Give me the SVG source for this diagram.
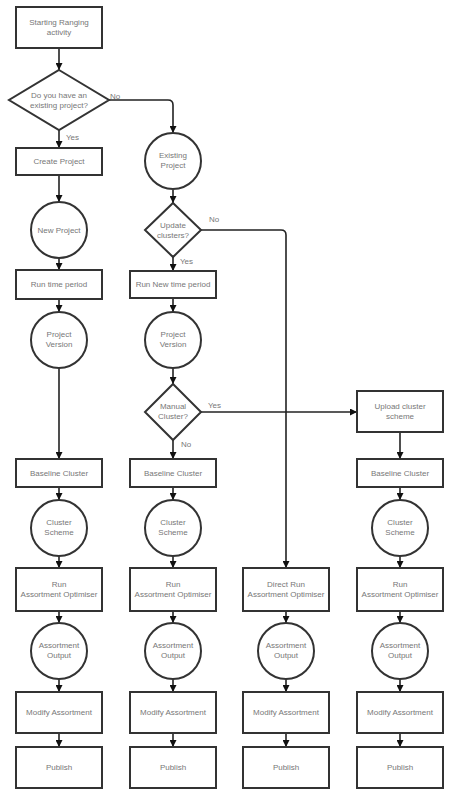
<svg xmlns="http://www.w3.org/2000/svg" width="474" height="796" viewBox="0 0 474 796">
<defs>
<marker id="arr" viewBox="0 0 10 10" refX="10" refY="5" markerWidth="7" markerHeight="7" markerUnits="userSpaceOnUse" orient="auto">
<path d="M0,0 L10,5 L0,10 z" fill="#111"/>
</marker>
<style>
.n{fill:#fff;stroke:#333;stroke-width:2}
.t{font-family:"Liberation Sans",Arial,sans-serif;font-size:8px;fill:#777;text-anchor:middle}
.l{font-family:"Liberation Sans",Arial,sans-serif;font-size:8px;fill:#777}
.c{fill:none;stroke:#222;stroke-width:1.6;marker-end:url(#arr)}
</style>
</defs>
<rect width="474" height="796" fill="#fff"/>
<g id="connectors">
<path class="c" d="M59,48 V70"/>
<path class="c" d="M109,100 H168 Q173,100 173,105 V133"/>
<path class="c" d="M59,130 V148"/>
<path class="c" d="M59,175 V202"/>
<path class="c" d="M59,258 V270"/>
<path class="c" d="M59,299 V312"/>
<path class="c" d="M59,368 V459"/>
<path class="c" d="M173,190 V203"/>
<path class="c" d="M201,230 H281 Q286,230 286,235 V568"/>
<path class="c" d="M173,257 V271"/>
<path class="c" d="M173,298 V312"/>
<path class="c" d="M173,368 V384"/>
<path class="c" d="M201,412 H357"/>
<path class="c" d="M173,440 V459"/>
<path class="c" d="M400,432 V459"/>
<path class="c" d="M59,487 V500"/><path class="c" d="M173,487 V500"/><path class="c" d="M400,487 V500"/>
<path class="c" d="M59,556 V568"/><path class="c" d="M173,556 V568"/><path class="c" d="M400,556 V568"/>
<path class="c" d="M59,611 V623"/><path class="c" d="M173,611 V623"/><path class="c" d="M286,611 V623"/><path class="c" d="M400,611 V623"/>
<path class="c" d="M59,679 V692"/><path class="c" d="M173,679 V692"/><path class="c" d="M286,679 V692"/><path class="c" d="M400,679 V692"/>
<path class="c" d="M59,733 V747"/><path class="c" d="M173,733 V747"/><path class="c" d="M286,733 V747"/><path class="c" d="M400,733 V747"/>
<text class="l" x="110" y="99">No</text>
<text class="l" x="66" y="140">Yes</text>
<text class="l" x="209" y="222">No</text>
<text class="l" x="180" y="264">Yes</text>
<text class="l" x="208" y="408">Yes</text>
<text class="l" x="181" y="447">No</text>
</g>
<g id="start"><rect class="n" x="16" y="7" width="86" height="41"/><text class="t" x="59" y="25">Starting Ranging</text><text class="t" x="59" y="35">activity</text></g>
<g id="d-existing"><path class="n" d="M59,70 L109,100 L59,130 L9,100 z"/><text class="t" x="59" y="98">Do you have an</text><text class="t" x="59" y="108">existing project?</text></g>
<g id="create-project"><rect class="n" x="16" y="148" width="86" height="27"/><text class="t" x="59" y="164">Create Project</text></g>
<g id="new-project"><circle class="n" cx="59" cy="230" r="28"/><text class="t" x="59" y="233">New Project</text></g>
<g id="run-time-period"><rect class="n" x="16" y="270" width="86" height="29"/><text class="t" x="59" y="287">Run time period</text></g>
<g id="project-version-1"><circle class="n" cx="59" cy="340" r="28"/><text class="t" x="59" y="337">Project</text><text class="t" x="59" y="347">Version</text></g>
<g id="existing-project"><circle class="n" cx="173" cy="161" r="28"/><text class="t" x="173" y="158">Existing</text><text class="t" x="173" y="168">Project</text></g>
<g id="d-update"><path class="n" d="M173,203 L201,230 L173,257 L145,230 z"/><text class="t" x="173" y="228">Update</text><text class="t" x="173" y="238">clusters?</text></g>
<g id="run-new-time-period"><rect class="n" x="130" y="271" width="86" height="27"/><text class="t" x="173" y="287">Run New time period</text></g>
<g id="project-version-2"><circle class="n" cx="173" cy="340" r="28"/><text class="t" x="173" y="337">Project</text><text class="t" x="173" y="347">Version</text></g>
<g id="d-manual"><path class="n" d="M173,384 L201,412 L173,440 L145,412 z"/><text class="t" x="173" y="409">Manual</text><text class="t" x="173" y="419">Cluster?</text></g>
<g id="upload"><rect class="n" x="357" y="391" width="86" height="41"/><text class="t" x="400" y="409">Upload cluster</text><text class="t" x="400" y="419">scheme</text></g>
<g id="baseline-1"><rect class="n" x="16" y="459" width="86" height="28"/><text class="t" x="59" y="476">Baseline Cluster</text></g>
<g id="baseline-2"><rect class="n" x="130" y="459" width="86" height="28"/><text class="t" x="173" y="476">Baseline Cluster</text></g>
<g id="baseline-4"><rect class="n" x="357" y="459" width="86" height="28"/><text class="t" x="400" y="476">Baseline Cluster</text></g>
<g id="scheme-1"><circle class="n" cx="59" cy="528" r="28"/><text class="t" x="59" y="525">Cluster</text><text class="t" x="59" y="535">Scheme</text></g>
<g id="scheme-2"><circle class="n" cx="173" cy="528" r="28"/><text class="t" x="173" y="525">Cluster</text><text class="t" x="173" y="535">Scheme</text></g>
<g id="scheme-4"><circle class="n" cx="400" cy="528" r="28"/><text class="t" x="400" y="525">Cluster</text><text class="t" x="400" y="535">Scheme</text></g>
<g id="rao-1"><rect class="n" x="16" y="568" width="86" height="43"/><text class="t" x="59" y="587">Run</text><text class="t" x="59" y="597">Assortment Optimiser</text></g>
<g id="rao-2"><rect class="n" x="130" y="568" width="86" height="43"/><text class="t" x="173" y="587">Run</text><text class="t" x="173" y="597">Assortment Optimiser</text></g>
<g id="rao-3"><rect class="n" x="243" y="568" width="86" height="43"/><text class="t" x="286" y="587">Direct Run</text><text class="t" x="286" y="597">Assortment Optimiser</text></g>
<g id="rao-4"><rect class="n" x="357" y="568" width="86" height="43"/><text class="t" x="400" y="587">Run</text><text class="t" x="400" y="597">Assortment Optimiser</text></g>
<g id="out-1"><circle class="n" cx="59" cy="651" r="28"/><text class="t" x="59" y="648">Assortment</text><text class="t" x="59" y="658">Output</text></g>
<g id="out-2"><circle class="n" cx="173" cy="651" r="28"/><text class="t" x="173" y="648">Assortment</text><text class="t" x="173" y="658">Output</text></g>
<g id="out-3"><circle class="n" cx="286" cy="651" r="28"/><text class="t" x="286" y="648">Assortment</text><text class="t" x="286" y="658">Output</text></g>
<g id="out-4"><circle class="n" cx="400" cy="651" r="28"/><text class="t" x="400" y="648">Assortment</text><text class="t" x="400" y="658">Output</text></g>
<g id="mod-1"><rect class="n" x="16" y="692" width="86" height="41"/><text class="t" x="59" y="715">Modify Assortment</text></g>
<g id="mod-2"><rect class="n" x="130" y="692" width="86" height="41"/><text class="t" x="173" y="715">Modify Assortment</text></g>
<g id="mod-3"><rect class="n" x="243" y="692" width="86" height="41"/><text class="t" x="286" y="715">Modify Assortment</text></g>
<g id="mod-4"><rect class="n" x="357" y="692" width="86" height="41"/><text class="t" x="400" y="715">Modify Assortment</text></g>
<g id="pub-1"><rect class="n" x="16" y="747" width="86" height="41"/><text class="t" x="59" y="770">Publish</text></g>
<g id="pub-2"><rect class="n" x="130" y="747" width="86" height="41"/><text class="t" x="173" y="770">Publish</text></g>
<g id="pub-3"><rect class="n" x="243" y="747" width="86" height="41"/><text class="t" x="286" y="770">Publish</text></g>
<g id="pub-4"><rect class="n" x="357" y="747" width="86" height="41"/><text class="t" x="400" y="770">Publish</text></g>
</svg>
